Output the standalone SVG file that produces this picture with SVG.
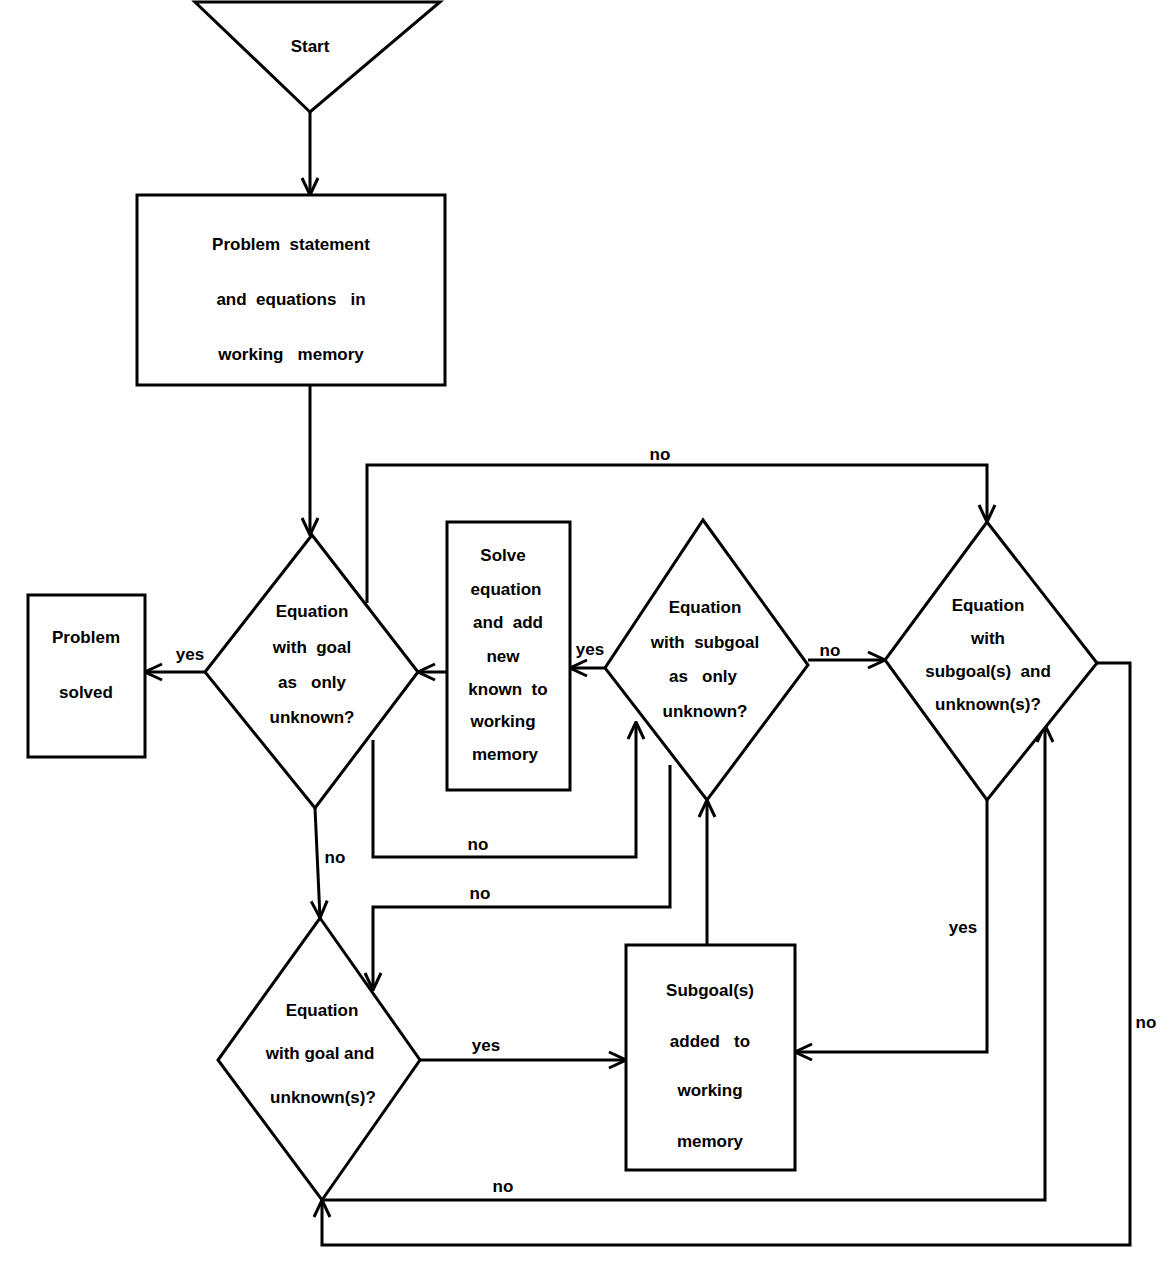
<svg xmlns="http://www.w3.org/2000/svg" width="1165" height="1280" viewBox="0 0 1165 1280">
<defs>
<marker id="a" viewBox="0 0 20 20" refX="19" refY="10" markerWidth="20" markerHeight="20" markerUnits="userSpaceOnUse" orient="auto">
<polyline points="2,2 19,10 2,18" fill="none" stroke="#000" stroke-width="3"/>
</marker>
<style>
.s{fill:#fff;stroke:#000;stroke-width:3}
.c{fill:none;stroke:#000;stroke-width:3;marker-end:url(#a)}
text{font-family:"Liberation Sans",Arial,sans-serif;font-weight:bold;font-size:17px;text-anchor:middle;fill:#000;white-space:pre}
</style>
</defs>
<rect width="1165" height="1280" fill="#fff"/>
<g id="connectors">
<path class="c" d="M310,112 V195"/>
<path class="c" d="M310,385 V535"/>
<path class="c" d="M205,672 H145"/>
<path class="c" d="M447,672 H418"/>
<path class="c" d="M605,668 H570"/>
<path class="c" d="M808,660 H885"/>
<path class="c" d="M367,603 V465 H987 V522"/>
<path class="c" d="M373,740 V857 H636 V722"/>
<path class="c" d="M670,765 V907 H373 V990"/>
<path class="c" d="M315,808 L320,918"/>
<path class="c" d="M420,1060 H626"/>
<path class="c" d="M707,945 V800"/>
<path class="c" d="M987,800 V1052 H795"/>
<path class="c" d="M322,1200 H1045 V725"/>
<path class="c" d="M1097,663 H1130 V1245 H322 V1200"/>
<text x="660" y="460">no</text>
<text x="190" y="660">yes</text>
<text x="590" y="655">yes</text>
<text x="830" y="656">no</text>
<text x="478" y="850">no</text>
<text x="480" y="899">no</text>
<text x="335" y="863">no</text>
<text x="486" y="1051">yes</text>
<text x="963" y="933">yes</text>
<text x="503" y="1192">no</text>
<text x="1146" y="1028">no</text>
</g>
<g id="start">
<polygon class="s" points="195,2 440,2 310,112"/>
<text x="310" y="52" font-size="15">Start</text>
</g>
<g id="problem">
<rect class="s" x="137" y="195" width="308" height="190"/>
<text x="291" y="250">Problem  statement</text>
<text x="291" y="305">and  equations   in</text>
<text x="291" y="360">working   memory</text>
</g>
<g id="d1">
<polygon class="s" points="312,535 418,672 315,808 205,672"/>
<text x="312" y="617">Equation</text>
<text x="312" y="653">with  goal</text>
<text x="312" y="688">as   only</text>
<text x="312" y="723">unknown?</text>
</g>
<g id="solved">
<rect class="s" x="28" y="595" width="117" height="162"/>
<text x="86" y="643">Problem</text>
<text x="86" y="698">solved</text>
</g>
<g id="solve">
<rect class="s" x="447" y="522" width="123" height="268"/>
<text x="503" y="561">Solve</text>
<text x="506" y="595">equation</text>
<text x="508" y="628">and  add</text>
<text x="503" y="662">new</text>
<text x="508" y="695">known  to</text>
<text x="503" y="727">working</text>
<text x="505" y="760">memory</text>
</g>
<g id="d2">
<polygon class="s" points="703,520 808,665 707,800 605,668"/>
<text x="705" y="613">Equation</text>
<text x="705" y="648">with  subgoal</text>
<text x="703" y="682">as   only</text>
<text x="705" y="717">unknown?</text>
</g>
<g id="d3">
<polygon class="s" points="987,522 1097,663 987,800 885,660"/>
<text x="988" y="611">Equation</text>
<text x="988" y="644">with</text>
<text x="988" y="677">subgoal(s)  and</text>
<text x="988" y="710">unknown(s)?</text>
</g>
<g id="d4">
<polygon class="s" points="320,918 420,1060 322,1200 218,1060"/>
<text x="322" y="1016">Equation</text>
<text x="320" y="1059">with goal and</text>
<text x="323" y="1103">unknown(s)?</text>
</g>
<g id="subgoal">
<rect class="s" x="626" y="945" width="169" height="225"/>
<text x="710" y="996">Subgoal(s)</text>
<text x="710" y="1047">added   to</text>
<text x="710" y="1096">working</text>
<text x="710" y="1147">memory</text>
</g>
</svg>
